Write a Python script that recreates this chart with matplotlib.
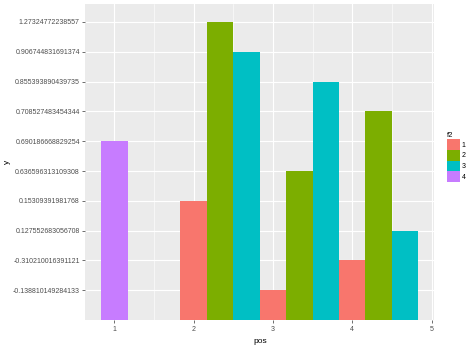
import matplotlib.pyplot as plt
from matplotlib.patches import Patch

# y 是字符串因子，按字典序排列成离散刻度
y_levels = ['-0.138810149284133', '-0.310210016391121', '0.127552683056708',
            '0.15309391981768', '0.636596313109308', '0.690186668829254',
            '0.708527483454344', '0.855393890439735', '0.906744831691374',
            '1.27324772238557']

# 每根柱子的位置、分组和对应的 y 值
pos = [1, 2, 2.3333, 2.6667, 3, 3.3333, 3.6667, 4, 4.3333, 4.6667]
f2 = ['4', '1', '2', '3', '1', '2', '3', '1', '2', '3']
y = ['0.690186668829254', '0.15309391981768', '1.27324772238557',
     '0.906744831691374', '-0.138810149284133', '0.636596313109308',
     '0.855393890439735', '-0.310210016391121', '0.708527483454344',
     '0.127552683056708']

f2_levels = ['1', '2', '3', '4']
colors = {'1': '#F8766D', '2': '#7CAE00', '3': '#00BFC4', '4': '#C77CFF'}

plt.rcParams['font.family'] = ['Liberation Sans', 'DejaVu Sans']

fig = plt.figure(figsize=(4.74, 3.46), dpi=100)
ax = fig.add_axes([0.180, 0.0751, 0.736, 0.913])
ax.set_facecolor('#EBEBEB')

# 网格线
for xm in [1.5, 2.5, 3.5, 4.5]:
    ax.axvline(xm, color='white', lw=0.4, zorder=0)
for xm in [1, 2, 3, 4, 5]:
    ax.axvline(xm, color='white', lw=0.8, zorder=0)
for i in range(len(y_levels)):
    ax.axhline(i + 1, color='white', lw=0.8, zorder=0)

# 柱子高度 = 因子水平的序号
heights = [y_levels.index(v) + 1 for v in y]
ax.bar(pos, heights, width=1 / 3, color=[colors[g] for g in f2], zorder=2)

ax.set_xlim(0.633, 5.033)
ax.set_ylim(0, 10.6)
ax.set_xticks([1, 2, 3, 4, 5])
ax.set_yticks(range(1, len(y_levels) + 1))
ax.set_yticklabels(y_levels)
ax.tick_params(labelsize=5, colors='#333333', labelcolor='#4D4D4D',
               length=2.5, width=0.5, pad=1.5)
for s in ax.spines.values():
    s.set_visible(False)

ax.set_xlabel('pos', fontsize=6, labelpad=4)
ax.set_ylabel('y', fontsize=6, labelpad=1)

# 图例
handles = [Patch(facecolor=colors[k], edgecolor='none', label=k) for k in f2_levels]
leg = fig.legend(handles=handles, title='f2', loc='upper left',
                 bbox_to_anchor=(0.942, 0.618), frameon=False,
                 fontsize=5, title_fontsize=5.5, handlelength=1.9,
                 handleheight=2.0, handletextpad=0.3, labelspacing=0.0,
                 borderaxespad=0, borderpad=0)
leg._legend_box.align = 'left'

fig.savefig('out.png', dpi=100)
